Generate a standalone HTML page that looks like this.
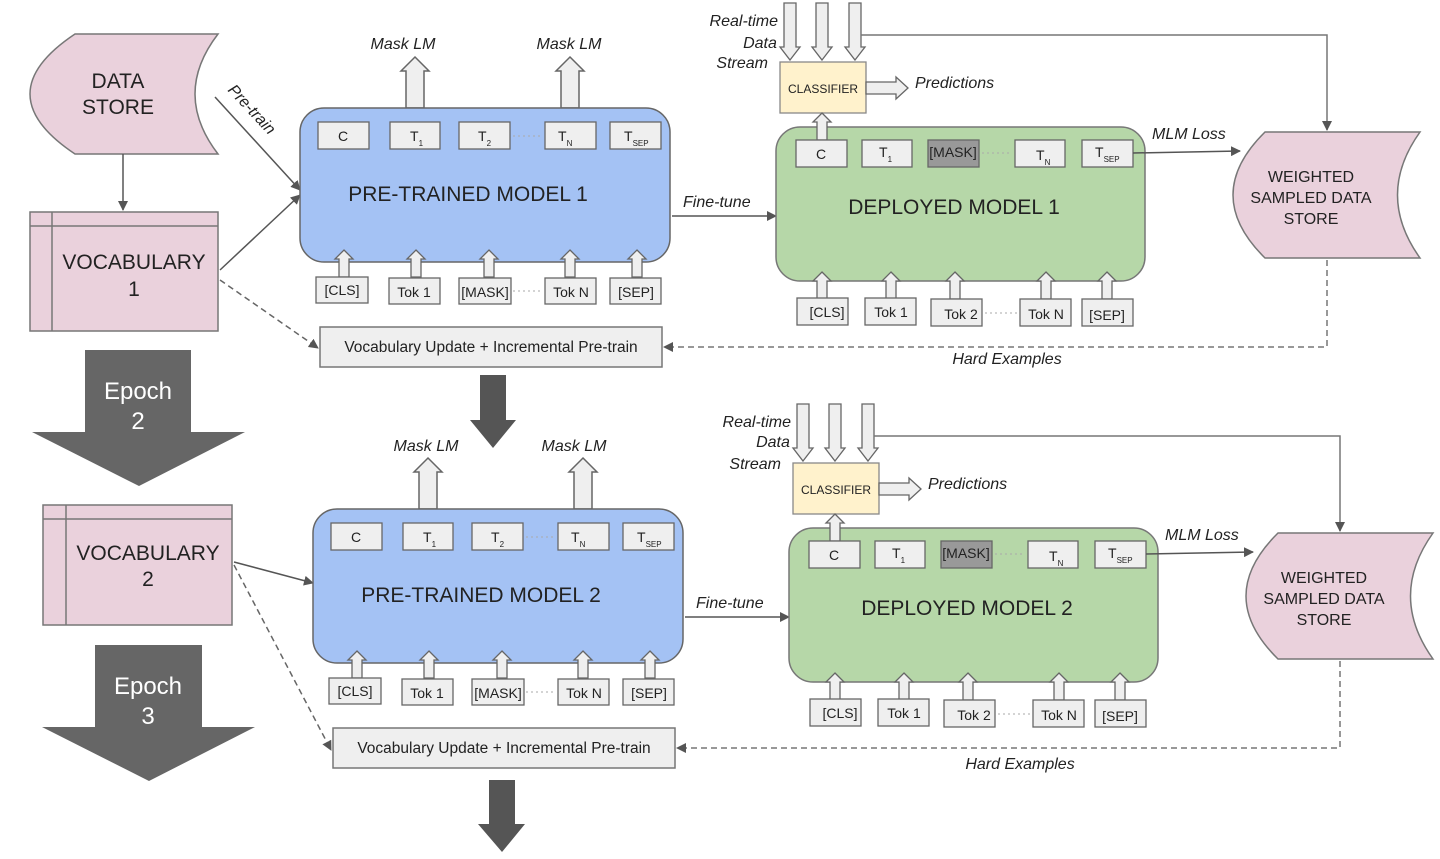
<!DOCTYPE html>
<html><head><meta charset="utf-8"><style>
html,body{margin:0;padding:0;background:#fff}
svg{display:block}
text{font-family:"Liberation Sans",Arial,sans-serif;fill:#222}
.it{font-style:italic;font-size:16px}
.tk{font-size:14px}
.sub{font-size:8px}
</style></head><body>
<svg width="1440" height="859" viewBox="0 0 1440 859" xmlns="http://www.w3.org/2000/svg">
<defs>
<marker id="ah" markerWidth="10" markerHeight="10" refX="9" refY="5" orient="auto" markerUnits="userSpaceOnUse"><path d="M0,0 L10,5 L0,10 Z" fill="#555"/></marker>
<path id="ua" d="M0,0 L14,14 L9,14 L9,51 L-9,51 L-9,14 L-14,14 Z" fill="#efefef" stroke="#666" stroke-width="1.5"/>
<path id="sa" d="M0,0 L9,9 L5,9 L5,27 L-5,27 L-5,9 L-9,9 Z" fill="#efefef" stroke="#666" stroke-width="1.3"/>
<path id="da" d="M0,0 L10,-13 L6,-13 L6,-57 L-6,-57 L-6,-13 L-10,-13 Z" fill="#efefef" stroke="#666" stroke-width="1.3"/>
<path id="ra" d="M0,0 L-12,-11 L-12,-6 L-42,-6 L-42,6 L-12,6 L-12,11 Z" fill="#efefef" stroke="#666" stroke-width="1.3"/>
</defs>

<!-- Left column -->
<path d="M75,34 L218,34 Q172,94 218,154 L75,154 Q-15,94 75,34 Z" fill="#ead1dc" stroke="#777" stroke-width="1.5"/>
<text x="118" y="88" font-size="21" text-anchor="middle">DATA</text>
<text x="118" y="114" font-size="21" text-anchor="middle">STORE</text>
<line x1="123" y1="154" x2="123" y2="210" stroke="#555" stroke-width="1.5" marker-end="url(#ah)"/>
<line x1="215" y1="97" x2="300" y2="190" stroke="#555" stroke-width="1.5" marker-end="url(#ah)"/>
<text x="248" y="113" class="it" font-size="15" transform="rotate(47 248 113)" text-anchor="middle">Pre-train</text>

<rect x="30" y="212" width="188" height="119" fill="#ead1dc" stroke="#777" stroke-width="1.5"/>
<line x1="52" y1="212" x2="52" y2="331" stroke="#777" stroke-width="1.5"/>
<line x1="30" y1="226" x2="218" y2="226" stroke="#777" stroke-width="1.5"/>
<text x="134" y="269" font-size="21" text-anchor="middle">VOCABULARY</text>
<text x="134" y="296" font-size="21" text-anchor="middle">1</text>
<line x1="220" y1="270" x2="300" y2="195" stroke="#555" stroke-width="1.5" marker-end="url(#ah)"/>
<line x1="220" y1="280" x2="318" y2="348" stroke="#666" stroke-width="1.5" stroke-dasharray="6,4" marker-end="url(#ah)"/>

<path d="M85,350 L191,350 L191,432 L245,432 L139,486 L32,432 L85,432 Z" fill="#666"/>
<text x="138" y="399" font-size="24" text-anchor="middle" style="fill:#fff">Epoch</text>
<text x="138" y="429" font-size="24" text-anchor="middle" style="fill:#fff">2</text>

<rect x="43" y="505" width="189" height="120" fill="#ead1dc" stroke="#777" stroke-width="1.5"/>
<line x1="66" y1="505" x2="66" y2="625" stroke="#777" stroke-width="1.5"/>
<line x1="43" y1="519" x2="232" y2="519" stroke="#777" stroke-width="1.5"/>
<text x="148" y="560" font-size="21" text-anchor="middle">VOCABULARY</text>
<text x="148" y="586" font-size="21" text-anchor="middle">2</text>
<line x1="234" y1="562" x2="313" y2="583" stroke="#555" stroke-width="1.5" marker-end="url(#ah)"/>
<line x1="234" y1="565" x2="331" y2="750" stroke="#666" stroke-width="1.5" stroke-dasharray="6,4" marker-end="url(#ah)"/>

<path d="M95,645 L202,645 L202,727 L255,727 L149,781 L42,727 L95,727 Z" fill="#666"/>
<text x="148" y="694" font-size="24" text-anchor="middle" style="fill:#fff">Epoch</text>
<text x="148" y="724" font-size="24" text-anchor="middle" style="fill:#fff">3</text>

<!-- dark down arrows -->
<path d="M480,375 L506,375 L506,420 L516,420 L493,448 L470,420 L480,420 Z" fill="#555"/>
<path d="M489,780 L515,780 L515,824 L525,824 L502,852 L478,824 L489,824 Z" fill="#555"/>

<!-- ROW 1 -->
<g>
<text x="403" y="49" class="it" text-anchor="middle">Mask LM</text>
<text x="569" y="49" class="it" text-anchor="middle">Mask LM</text>
<use href="#ua" x="415" y="57"/>
<use href="#ua" x="570" y="57"/>
<rect x="300" y="108" width="370" height="154" rx="24" fill="#a4c2f4" stroke="#666" stroke-width="1.5"/>
<g fill="#efefef" stroke="#666" stroke-width="1.3">
<rect x="318" y="122" width="51" height="27"/><rect x="390" y="122" width="50" height="27"/><rect x="459" y="122" width="51" height="27"/><rect x="545" y="122" width="51" height="27"/><rect x="610" y="122" width="51" height="27"/>
</g>
<line x1="513" y1="136" x2="542" y2="136" stroke="#aaa" stroke-dasharray="2,3"/>
<text x="343" y="141" class="tk" text-anchor="middle">C</text>
<text x="410" y="141" class="tk">T<tspan class="sub" dy="5">1</tspan></text>
<text x="478" y="141" class="tk">T<tspan class="sub" dy="5">2</tspan></text>
<text x="558" y="141" class="tk">T<tspan class="sub" dy="5">N</tspan></text>
<text x="624" y="141" class="tk">T<tspan class="sub" dy="5">SEP</tspan></text>
<text x="468" y="201" font-size="21" text-anchor="middle">PRE-TRAINED MODEL 1</text>
<use href="#sa" x="344" y="250"/><use href="#sa" x="416" y="250"/><use href="#sa" x="489" y="250"/><use href="#sa" x="570" y="250"/><use href="#sa" x="637" y="250"/>
<g fill="#efefef" stroke="#666" stroke-width="1.3">
<rect x="316" y="277" width="52" height="26"/><rect x="389" y="278" width="51" height="26"/><rect x="459" y="278" width="52" height="26"/><rect x="545" y="278" width="51" height="26"/><rect x="610" y="278" width="51" height="26"/>
</g>
<line x1="513" y1="291" x2="542" y2="291" stroke="#aaa" stroke-dasharray="2,3"/>
<text x="342" y="295" class="tk" text-anchor="middle">[CLS]</text>
<text x="414" y="297" class="tk" text-anchor="middle">Tok 1</text>
<text x="485" y="297" class="tk" text-anchor="middle">[MASK]</text>
<text x="571" y="297" class="tk" text-anchor="middle">Tok N</text>
<text x="636" y="297" class="tk" text-anchor="middle">[SEP]</text>
<rect x="320" y="327" width="342" height="40" fill="#efefef" stroke="#777" stroke-width="1.5"/>
<text x="491" y="348" font-size="15.5" text-anchor="middle" dominant-baseline="middle">Vocabulary Update + Incremental Pre-train</text>

<line x1="672" y1="216" x2="776" y2="216" stroke="#555" stroke-width="1.5" marker-end="url(#ah)"/>
<text x="683" y="207" class="it">Fine-tune</text>

<text x="778" y="26" class="it" text-anchor="end">Real-time</text>
<text x="760" y="48" class="it" text-anchor="middle">Data</text>
<text x="768" y="68" class="it" text-anchor="end">Stream</text>
<use href="#da" x="790" y="60"/><use href="#da" x="822" y="60"/><use href="#da" x="855" y="60"/>
<polyline points="861,35 1327,35 1327,130" fill="none" stroke="#777" stroke-width="1.5" marker-end="url(#ah)"/>
<rect x="780" y="62" width="86" height="51" fill="#fff2cc" stroke="#888" stroke-width="1.3"/>
<text x="823" y="93" font-size="12" text-anchor="middle">CLASSIFIER</text>
<use href="#ra" x="908" y="88"/>
<text x="915" y="88" class="it">Predictions</text>

<rect x="776" y="127" width="369" height="154" rx="24" fill="#b6d7a8" stroke="#777" stroke-width="1.5"/>
<use href="#sa" x="822" y="113"/>
<g fill="#efefef" stroke="#666" stroke-width="1.3">
<rect x="796" y="140" width="51" height="27"/><rect x="862" y="140" width="50" height="27"/><rect x="928" y="140" width="51" height="27" fill="#999"/><rect x="1015" y="140" width="50" height="27"/><rect x="1082" y="140" width="51" height="27"/>
</g>
<line x1="982" y1="153" x2="1012" y2="153" stroke="#aaa" stroke-dasharray="2,3"/>
<text x="821" y="159" class="tk" text-anchor="middle">C</text>
<text x="879" y="157" class="tk">T<tspan class="sub" dy="5">1</tspan></text>
<text x="953" y="157" class="tk" text-anchor="middle">[MASK]</text>
<text x="1036" y="160" class="tk">T<tspan class="sub" dy="5">N</tspan></text>
<text x="1095" y="157" class="tk">T<tspan class="sub" dy="5">SEP</tspan></text>
<text x="954" y="214" font-size="21" text-anchor="middle">DEPLOYED MODEL 1</text>
<use href="#sa" x="822" y="272"/><use href="#sa" x="891" y="272"/><use href="#sa" x="955" y="272"/><use href="#sa" x="1046" y="272"/><use href="#sa" x="1107" y="272"/>
<g fill="#efefef" stroke="#666" stroke-width="1.3">
<rect x="797" y="298" width="51" height="27"/><rect x="865" y="298" width="51" height="27"/><rect x="931" y="299" width="51" height="27"/><rect x="1020" y="299" width="51" height="27"/><rect x="1082" y="299" width="51" height="27"/>
</g>
<line x1="985" y1="313" x2="1017" y2="313" stroke="#aaa" stroke-dasharray="2,3"/>
<text x="827" y="317" class="tk" text-anchor="middle">[CLS]</text>
<text x="891" y="317" class="tk" text-anchor="middle">Tok 1</text>
<text x="961" y="319" class="tk" text-anchor="middle">Tok 2</text>
<text x="1046" y="319" class="tk" text-anchor="middle">Tok N</text>
<text x="1107" y="320" class="tk" text-anchor="middle">[SEP]</text>

<line x1="1133" y1="153" x2="1240" y2="151" stroke="#555" stroke-width="1.5" marker-end="url(#ah)"/>
<text x="1152" y="139" class="it">MLM Loss</text>
<path d="M1265,132 L1420,132 Q1375,195 1420,258 L1265,258 Q1201,195 1265,132 Z" fill="#ead1dc" stroke="#777" stroke-width="1.5"/>
<text x="1311" y="182" font-size="16" text-anchor="middle">WEIGHTED</text>
<text x="1311" y="203" font-size="16" text-anchor="middle">SAMPLED DATA</text>
<text x="1311" y="224" font-size="16" text-anchor="middle">STORE</text>
<polyline points="1327,260 1327,347 664,347" fill="none" stroke="#777" stroke-width="1.5" stroke-dasharray="6,4" marker-end="url(#ah)"/>
<text x="1007" y="364" class="it" text-anchor="middle">Hard Examples</text>
</g>

<!-- ROW 2 -->
<g transform="translate(13,401)">
<text x="413" y="50" class="it" text-anchor="middle">Mask LM</text>
<text x="561" y="50" class="it" text-anchor="middle">Mask LM</text>
<use href="#ua" x="415" y="57"/>
<use href="#ua" x="570" y="57"/>
<rect x="300" y="108" width="370" height="154" rx="24" fill="#a4c2f4" stroke="#666" stroke-width="1.5"/>
<g fill="#efefef" stroke="#666" stroke-width="1.3">
<rect x="318" y="122" width="51" height="27"/><rect x="390" y="122" width="50" height="27"/><rect x="459" y="122" width="51" height="27"/><rect x="545" y="122" width="51" height="27"/><rect x="610" y="122" width="51" height="27"/>
</g>
<line x1="513" y1="136" x2="542" y2="136" stroke="#aaa" stroke-dasharray="2,3"/>
<text x="343" y="141" class="tk" text-anchor="middle">C</text>
<text x="410" y="141" class="tk">T<tspan class="sub" dy="5">1</tspan></text>
<text x="478" y="141" class="tk">T<tspan class="sub" dy="5">2</tspan></text>
<text x="558" y="141" class="tk">T<tspan class="sub" dy="5">N</tspan></text>
<text x="624" y="141" class="tk">T<tspan class="sub" dy="5">SEP</tspan></text>
<text x="468" y="201" font-size="21" text-anchor="middle">PRE-TRAINED MODEL 2</text>
<use href="#sa" x="344" y="250"/><use href="#sa" x="416" y="250"/><use href="#sa" x="489" y="250"/><use href="#sa" x="570" y="250"/><use href="#sa" x="637" y="250"/>
<g fill="#efefef" stroke="#666" stroke-width="1.3">
<rect x="316" y="277" width="52" height="26"/><rect x="389" y="278" width="51" height="26"/><rect x="459" y="278" width="52" height="26"/><rect x="545" y="278" width="51" height="26"/><rect x="610" y="278" width="51" height="26"/>
</g>
<line x1="513" y1="291" x2="542" y2="291" stroke="#aaa" stroke-dasharray="2,3"/>
<text x="342" y="295" class="tk" text-anchor="middle">[CLS]</text>
<text x="414" y="297" class="tk" text-anchor="middle">Tok 1</text>
<text x="485" y="297" class="tk" text-anchor="middle">[MASK]</text>
<text x="571" y="297" class="tk" text-anchor="middle">Tok N</text>
<text x="636" y="297" class="tk" text-anchor="middle">[SEP]</text>
<rect x="320" y="327" width="342" height="40" fill="#efefef" stroke="#777" stroke-width="1.5"/>
<text x="491" y="348" font-size="15.5" text-anchor="middle" dominant-baseline="middle">Vocabulary Update + Incremental Pre-train</text>

<line x1="672" y1="216" x2="776" y2="216" stroke="#555" stroke-width="1.5" marker-end="url(#ah)"/>
<text x="683" y="207" class="it">Fine-tune</text>

<text x="778" y="26" class="it" text-anchor="end">Real-time</text>
<text x="760" y="46" class="it" text-anchor="middle">Data</text>
<text x="768" y="68" class="it" text-anchor="end">Stream</text>
<use href="#da" x="790" y="60"/><use href="#da" x="822" y="60"/><use href="#da" x="855" y="60"/>
<polyline points="861,35 1327,35 1327,130" fill="none" stroke="#777" stroke-width="1.5" marker-end="url(#ah)"/>
<rect x="780" y="62" width="86" height="51" fill="#fff2cc" stroke="#888" stroke-width="1.3"/>
<text x="823" y="93" font-size="12" text-anchor="middle">CLASSIFIER</text>
<use href="#ra" x="908" y="88"/>
<text x="915" y="88" class="it">Predictions</text>

<rect x="776" y="127" width="369" height="154" rx="24" fill="#b6d7a8" stroke="#777" stroke-width="1.5"/>
<use href="#sa" x="822" y="113"/>
<g fill="#efefef" stroke="#666" stroke-width="1.3">
<rect x="796" y="140" width="51" height="27"/><rect x="862" y="140" width="50" height="27"/><rect x="928" y="140" width="51" height="27" fill="#999"/><rect x="1015" y="140" width="50" height="27"/><rect x="1082" y="140" width="51" height="27"/>
</g>
<line x1="982" y1="153" x2="1012" y2="153" stroke="#aaa" stroke-dasharray="2,3"/>
<text x="821" y="159" class="tk" text-anchor="middle">C</text>
<text x="879" y="157" class="tk">T<tspan class="sub" dy="5">1</tspan></text>
<text x="953" y="157" class="tk" text-anchor="middle">[MASK]</text>
<text x="1036" y="160" class="tk">T<tspan class="sub" dy="5">N</tspan></text>
<text x="1095" y="157" class="tk">T<tspan class="sub" dy="5">SEP</tspan></text>
<text x="954" y="214" font-size="21" text-anchor="middle">DEPLOYED MODEL 2</text>
<use href="#sa" x="822" y="272"/><use href="#sa" x="891" y="272"/><use href="#sa" x="955" y="272"/><use href="#sa" x="1046" y="272"/><use href="#sa" x="1107" y="272"/>
<g fill="#efefef" stroke="#666" stroke-width="1.3">
<rect x="797" y="298" width="51" height="27"/><rect x="865" y="298" width="51" height="27"/><rect x="931" y="299" width="51" height="27"/><rect x="1020" y="299" width="51" height="27"/><rect x="1082" y="299" width="51" height="27"/>
</g>
<line x1="985" y1="313" x2="1017" y2="313" stroke="#aaa" stroke-dasharray="2,3"/>
<text x="827" y="317" class="tk" text-anchor="middle">[CLS]</text>
<text x="891" y="317" class="tk" text-anchor="middle">Tok 1</text>
<text x="961" y="319" class="tk" text-anchor="middle">Tok 2</text>
<text x="1046" y="319" class="tk" text-anchor="middle">Tok N</text>
<text x="1107" y="320" class="tk" text-anchor="middle">[SEP]</text>

<line x1="1133" y1="153" x2="1240" y2="151" stroke="#555" stroke-width="1.5" marker-end="url(#ah)"/>
<text x="1152" y="139" class="it">MLM Loss</text>
<path d="M1265,132 L1420,132 Q1375,195 1420,258 L1265,258 Q1201,195 1265,132 Z" fill="#ead1dc" stroke="#777" stroke-width="1.5"/>
<text x="1311" y="182" font-size="16" text-anchor="middle">WEIGHTED</text>
<text x="1311" y="203" font-size="16" text-anchor="middle">SAMPLED DATA</text>
<text x="1311" y="224" font-size="16" text-anchor="middle">STORE</text>
<polyline points="1327,260 1327,347 664,347" fill="none" stroke="#777" stroke-width="1.5" stroke-dasharray="6,4" marker-end="url(#ah)"/>
<text x="1007" y="368" class="it" text-anchor="middle">Hard Examples</text>
</g>
</svg>
</body></html>
